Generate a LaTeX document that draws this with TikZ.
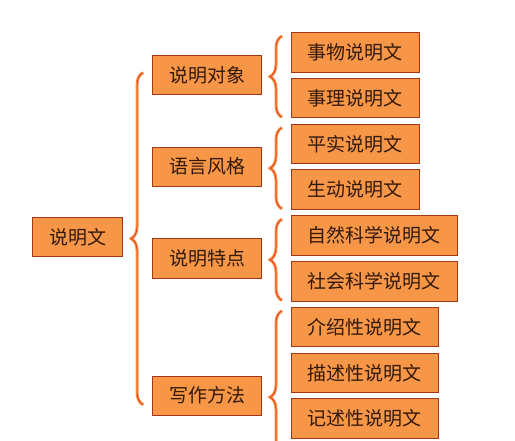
\documentclass[tikz,border=0pt]{standalone}
\usepackage{fontspec}
\newfontfamily\cjk{Noto Sans CJK SC}
\usetikzlibrary{positioning,calc,decorations.pathreplacing}

\definecolor{boxfill}{RGB}{247,150,70}
\definecolor{boxline}{RGB}{165,55,25}
\definecolor{boxtext}{RGB}{50,25,10}
\definecolor{bracered}{RGB}{225,55,35}

% brace: orange band with a thin red edge on its left
\newcommand\kuohao[3]{%
  \draw[bracefill, decoration={brace, amplitude=#1}] #2 -- #3;
  \draw[braceedge, decoration={brace, amplitude=#1}] #2 -- #3;}

\begin{document}
\begin{tikzpicture}[
    x=1pt, y=1pt,
    node distance=5.4pt and 29pt,
    box/.style={rectangle, draw=boxline, line width=0.9pt, fill=boxfill, text=boxtext, minimum height=39.5pt, inner xsep=16.5pt, font=\cjk\fontsize{19}{21}\selectfont},
    leaf/.style={box, anchor=north west},
    bracefill/.style={decorate, draw=boxfill, line width=3pt},
    braceedge/.style={decorate, draw=bracered, line width=0.7pt, xshift=-1.5pt}
]
\useasboundingbox (0,0) rectangle (515,-440);
\clip (0,0) rectangle (515,-440);

% third level
\node[leaf] (swu) at (291,-32) {事物说明文};
\node[below=of swu.south west, leaf] (sli) {事理说明文};
\node[below=of sli.south west, leaf] (pingshi) {平实说明文};
\node[below=of pingshi.south west, leaf] (shengdong) {生动说明文};
\node[below=of shengdong.south west, leaf] (ziran) {自然科学说明文};
\node[below=of ziran.south west, leaf] (shehui) {社会科学说明文};
\node[below=of shehui.south west, leaf] (jieshao) {介绍性说明文};
\node[below=of jieshao.south west, leaf] (miaoshu) {描述性说明文};
\node[below=of miaoshu.south west, leaf] (jishu) {记述性说明文};
\node[below=of jishu.south west, leaf, minimum width=147pt] (more) {};

% second level
\node[box, anchor=east] (duixiang) at ($(swu.west)!0.5!(sli.west)+(-29pt,0)$) {说明对象};
\node[box, anchor=east] (fengge) at ($(pingshi.west)!0.5!(shengdong.west)+(-29pt,0)$) {语言风格};
\node[box, anchor=east] (tedian) at ($(ziran.west)!0.5!(shehui.west)+(-29pt,0)$) {说明特点};
\node[box, anchor=east] (fangfa) at ($(jieshao.west)!0.5!(more.west)+(-29pt,0)$) {写作方法};

% root
\node[box, anchor=east] (root) at (123,-237) {说明文};

% braces
\kuohao{12pt}{($(fangfa.west)+(-9pt,-9pt)$)}{($(duixiang.west)+(-9pt,2.5pt)$)}
\kuohao{12pt}{($(sli.south west)+(-9pt,1pt)$)}{($(swu.north west)+(-9pt,-4pt)$)}
\kuohao{12pt}{($(shengdong.south west)+(-9pt,1pt)$)}{($(pingshi.north west)+(-9pt,-4pt)$)}
\kuohao{12pt}{($(shehui.south west)+(-9pt,1pt)$)}{($(ziran.north west)+(-9pt,-4pt)$)}
\kuohao{12pt}{($(more.south west)+(-9pt,1pt)$)}{($(jieshao.north west)+(-9pt,-4pt)$)}

\end{tikzpicture}
\end{document}
